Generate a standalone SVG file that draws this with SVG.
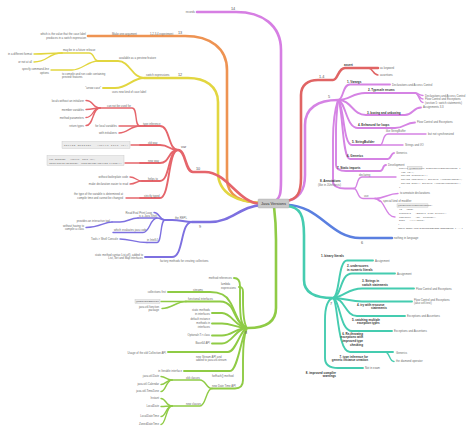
<svg xmlns="http://www.w3.org/2000/svg" width="474" height="434" viewBox="0 0 474 434">
<style>
text{font-family:"Liberation Sans",Arial,sans-serif;font-size:2.8px;fill:#6a6a6a}
.b{font-weight:bold;fill:#333;font-size:3px}
.n{font-size:3.8px;fill:#555}
.e{text-anchor:end}
.m{font-family:"Liberation Mono",monospace;font-size:2.5px;fill:#555}
path{fill:none;stroke-linecap:round;stroke-linejoin:round}
.tk{stroke-width:2.6}
.md{stroke-width:1.9}
.lf{stroke-width:1.4}
.k14{stroke:#d67ee3}.k13{stroke:#ee9352}.k12{stroke:#e2d640}.k10{stroke:#e5656b}.k9{stroke:#7d70e0}.k8{stroke:#8fcb45}.k7{stroke:#45ccb0}.k6{stroke:#5a7fe0}.k5{stroke:#d583e4}.k4{stroke:#e06464}
.box{fill:#ececec;stroke:#c4c4c4;stroke-width:0.4}
</style>
<rect width="474" height="434" fill="#ffffff"/>
<g id="connectors">
<path class="tk k14" d="M272,202 C281,200 281,192 281,180 L281,50 C281,25 262,12 236,12 L197,12"/>
<path class="tk k13" d="M266,203 C240,203 227,196 227,178 L227,70 C227,48 210,36 185,36 L88,36"/>
<path class="tk k12" d="M264,203 C238,203 218,194 218,172 L218,102 C218,86 205,78 188,78 L144,78"/>
<path class="md k12" d="M144,78 C132,78 130,61 118,61 L98,61"/>
<path class="lf k12" d="M98,61 C93,61 95,53 89,53 L62,53"/>
<path class="lf k12" d="M62,53 C48,53 48,54 34,54"/>
<path class="lf k12" d="M62,53 C48,53 48,62 34,62"/>
<path class="lf k12" d="M98,61 C88,61 82,70 72,70 L51,70"/>
<path class="md k12" d="M144,78 C132,78 128,88 115,88 L103,88"/>
<path class="tk k10" d="M262,204 C238,204 228,172 205,172 L193,172 C185,172 186,150 178,150"/>
<path class="md k10" d="M178,150 C168,150 170,126 160,126 L140,126"/>
<path class="md k10" d="M178,150 C168,150 170,145 160,145 L140,145"/>
<path class="md k10" d="M178,150 C168,150 170,163 160,163 L140,163"/>
<path class="md k10" d="M178,150 C168,150 170,181 160,181 L142,181"/>
<path class="md k10" d="M178,150 C168,150 170,198 160,198 L140,198"/>
<path class="lf k10" d="M140,126 C134,126 138,108 132,108 L100,108"/>
<path class="lf k10" d="M100,108 C92,108 94,100.5 86,100.5"/>
<path class="lf k10" d="M100,108 C92,108 94,109.5 86,109.5"/>
<path class="lf k10" d="M100,108 C92,108 94,117.5 86,117.5"/>
<path class="lf k10" d="M100,108 C92,108 94,125.5 86,125.5"/>
<path class="lf k10" d="M140,126 L119,126"/>
<path class="lf k10" d="M140,126 C130,126 128,133 119,133"/>
<path class="lf k10" d="M140,145 L131,145"/>
<path class="lf k10" d="M140,163 L125,163"/>
<path class="lf k10" d="M142,181 C136,181 136,177 130,177"/>
<path class="lf k10" d="M142,181 C136,181 136,184 130,184"/>
<path class="lf k10" d="M140,198 L126,198"/>
<path class="tk k9" d="M262,205 C240,206 232,222 210,222 L192,222"/>
<path class="md k9" d="M192,222 C185,222 180,220 172,220 L165,220"/>
<path class="lf k9" d="M165,220 C159,220 160,212.5 154,212.5"/>
<path class="lf k9" d="M165,220 C161,220 161,218 157,218 L138,218"/>
<path class="lf k9" d="M138,218 C130,218 128,222 120,222 L112,222"/>
<path class="lf k9" d="M112,222 C104,222 100,227.5 86,227.5"/>
<path class="lf k9" d="M157,218 C150,218 150,232.5 143,232.5 L113,232.5"/>
<path class="lf k9" d="M165,220 C160,220 162,242.5 157,242.5 L147,242.5"/>
<path class="lf k9" d="M147,242.5 C135,242.5 130,239 120,239"/>
<path class="md k9" d="M192,222 C180,222 184,257 172,257 L145,257"/>
<path class="tk k6" d="M286,205 C320,205 330,238 360,238 L392,238"/>
<path class="tk k7" d="M287,206 C300,207 304,215 304,235 L304,280 C304,293 316,298 333,298"/>
<path class="md k7" d="M333,298 C340,296 338,260.5 347,260.5 L373,260.5"/>
<path class="md k7" d="M333,298 C342,296 340,273.5 352,273.5 L395,273.5"/>
<path class="md k7" d="M333,298 C345,296 348,288.5 362,288.5 L414,288.5"/>
<path class="md k7" d="M333,298 C345,298 350,301.5 362,301.5 L412,301.5"/>
<path class="md k7" d="M333,298 C345,298 345,316 357,316 L405,316"/>
<path class="md k7" d="M333,298 C340,300 340,331 352,331 L392,331"/>
<path class="md k7" d="M333,298 C338,300 337,352 350,352 L393,352"/>
<path class="lf k7" d="M385,352 C390,352 389,361.5 394,361.5"/>
<path class="md k7" d="M333,298 C326,300 325,310 325,320 L325,358 C325,365 330,368 338,368 L363,368"/>
<path class="tk k5" d="M286,201 C300,199 305,190 305,175 L305,125 C305,108 318,100 338,100"/>
<path class="md k5" d="M338,100 C344,100 342,84.5 350,84.5 L390,84.5"/>
<path class="md k5" d="M338,100 C350,100 352,93 365,93 L415,93"/>
<path class="lf k5" d="M415,93 C419,93 419,95.5 423,95.5"/>
<path class="lf k5" d="M415,93 C419,93 419,99 423,99"/>
<path class="lf k5" d="M415,93 C419,93 419,102.5 423,102.5"/>
<path class="md k5" d="M338,100 C352,100 352,115 366,115 L405,115 C413,115 413,107.5 421,107.5"/>
<path class="md k5" d="M338,100 C346,102 346,128 358,128 L395,128 C405,128 405,122.5 415,122.5"/>
<path class="md k5" d="M338,100 C344,104 343,145 352,145 L380,145"/>
<path class="lf k5" d="M380,145 C384,145 382,134 388,134 L426,134"/>
<path class="lf k5" d="M380,145 L403,145"/>
<path class="md k5" d="M338,100 C343,106 342,159 350,159 L388,159 C391,159 391,153 394,153"/>
<path class="md k5" d="M338,100 C337,110 336,120 336,130 L336,165 C336,169 340,171 346,171 L380,171 C384,171 382,165 386,165"/>
<path class="md k5" d="M338,100 C334,112 333,125 333,140 L333,182 C333,186 338,188.5 345,188.5 L354,188.5"/>
<path class="lf k5" d="M354,188.5 C358,188.5 356,177 362,177 L396,177"/>
<path class="lf k5" d="M354,188.5 C358,188.5 357,198.5 363,198.5 L375,198.5"/>
<path class="lf k5" d="M375,198.5 C385,198.5 388,193.5 398,193.5"/>
<path class="lf k5" d="M375,198.5 C378,198.5 378,201.5 381,201.5"/>
<path class="lf k5" d="M375,198.5 C385,198.5 385,217 395,217"/>
<path class="tk k4" d="M285,201 C298,200 301,192 301,178 L301,95 C301,85 308,80 318,80 L333,80 C338,80 338,68 345,68 L378,68"/>
<path class="lf k4" d="M368,68 C373,68 373,75 378,75"/>
<path class="tk k8" d="M274,207 C275,215 276,222 276,240 L276,308 C276,322 265,328 248,328"/>
<path class="md k8" d="M247,328 C241,326 240,318 240,300 L240,286 C240,281 238,278 234,278"/>
<path class="md k8" d="M247,328 C244,324 243,316 243,300 L243,292 C243,288 242,287 239,287"/>
<path class="md k8" d="M247,328 C238,325 236,312 230,302 C226,294 218,292 210,292 L168,292"/>
<path class="md k8" d="M247,328 C238,325 235,313 231,307 C228,303 225,301.5 220,301.5 L186,301.5"/>
<path class="lf k8" d="M186,301.5 L161,301.5"/>
<path class="lf k8" d="M186,301.5 C176,301.5 172,308.5 162,308.5"/>
<path class="md k8" d="M247,328 C235,327 232,313 222,313 L212,313"/>
<path class="md k8" d="M247,328 C236,328 232,323.5 222,323.5 L212,323.5"/>
<path class="md k8" d="M247,328 C236,328 232,335.5 222,335.5 L212,335.5"/>
<path class="md k8" d="M247,328 C236,328 232,343.5 222,343.5 L212,343.5"/>
<path class="md k8" d="M247,328 C240,330 236,352 228,352 L168,352"/>
<path class="md k8" d="M247,328 C242,332 238,371 230,371 L184,371"/>
<path class="md k8" d="M247,328 C244,335 243,345 243,360 L243,380 C243,386 240,388.5 235,388.5 L212,388.5"/>
<path class="lf k8" d="M212,388.5 C206,388.5 206,380 200,380 L172,380"/>
<path class="lf k8" d="M172,380 C166,380 166,376.5 161,376.5"/>
<path class="lf k8" d="M172,380 C166,380 166,384.5 161,384.5"/>
<path class="lf k8" d="M172,380 C166,380 166,391.5 161,391.5"/>
<path class="lf k8" d="M212,388.5 C206,388.5 206,406 200,406 L172,406"/>
<path class="lf k8" d="M172,406 C166,406 166,398.5 161,398.5"/>
<path class="lf k8" d="M172,406 C166,406 166,406.5 161,406.5"/>
<path class="lf k8" d="M172,406 C166,406 166,416.5 161,416.5"/>
<path class="lf k8" d="M172,406 C166,406 166,424.5 161,424.5"/>
</g>
<g id="root"><rect x="258" y="199" width="31" height="9" rx="1" fill="#c8c8c8" stroke="#aaaaaa" stroke-width="0.4"/><text x="273.5" y="204.9" text-anchor="middle" style="font-size:4px;fill:#333">Java Versions</text></g>
<g id="v14"><text class="n" x="231" y="9.5">14</text></g>
<g id="records"><text class="e" x="195" y="13">records</text></g>
<g id="v13"><text class="n" x="178" y="33.5">13</text></g>
<g id="experiment"><text x="150" y="34.5">1,2,3,4 experiment</text></g>
<g id="argument"><text x="112" y="34.5">Make one argument</text></g>
<g id="yield-desc"><text class="e" x="86" y="34.5">which is the value that the case label</text><text class="e" x="86" y="39">produces in a switch expression</text></g>
<g id="v12"><text class="n" x="178" y="75.5">12</text></g>
<g id="switch"><text x="146" y="76">switch expressions</text></g>
<g id="preview"><text x="119" y="58.5">available as a preview feature</text></g>
<g id="future"><text x="63" y="51">may be in a future release</text></g>
<g id="format"><text class="e" x="32" y="55">in a different format</text></g>
<g id="notatall"><text class="e" x="32" y="63">or not at all</text></g>
<g id="cmdline"><text class="e" x="49" y="69.5">specify command-line</text><text class="e" x="49" y="73.5">options</text></g>
<g id="compile"><text x="62" y="74.5">to compile and run code containing</text><text x="62" y="78">preview features</text></g>
<g id="arrow"><text class="e" x="101" y="89">"arrow case"</text></g>
<g id="caselabel"><text x="112" y="93">uses new kind of case label</text></g>
<g id="v10"><text class="n" x="196" y="169.5">10</text></g>
<g id="var"><text class="n" x="181" y="147.5">var</text></g>
<g id="typeinf"><text x="143" y="124.5">type inference</text></g>
<g id="oldway"><text x="148" y="143.5">old way</text></g>
<g id="newway"><text x="148" y="161.5">new way</text></g>
<g id="helps"><text x="148" y="179.5">helps to</text></g>
<g id="strict"><text x="144" y="196.5">strictly typed</text></g>
<g id="cannot"><text x="107" y="106.5">can not be used for</text></g>
<g id="locals"><text class="e" x="84" y="101.5">locals without an initializer</text></g>
<g id="members"><text class="e" x="84" y="110.5">member variables</text></g>
<g id="params"><text class="e" x="84" y="118.5">method parameters</text></g>
<g id="returns"><text class="e" x="84" y="126.5">return types</text></g>
<g id="forlocal"><text class="e" x="117" y="127">for local variables</text></g>
<g id="withinit"><text class="e" x="117" y="134">with initializers</text></g>
<g id="code-old"><rect class="box" x="62" y="141.5" width="68" height="7"/><text class="m" x="64" y="146.2" textLength="64">String message = "Hello Java 10";</text></g>
<g id="code-new"><rect class="box" x="47" y="155.5" width="77" height="10"/><text class="m" x="49" y="159.7">var message = "Hello, Java 10";</text><text class="m" x="49" y="163.5" textLength="73">assertThat(message, instanceOf(String.class));</text></g>
<g id="boiler"><text class="e" x="128" y="178">without boilerplate code</text></g>
<g id="easier"><text class="e" x="128" y="185">make declaration easier to read</text></g>
<g id="typedesc"><text class="e" x="123" y="194.5">the type of the variable is determined at</text><text class="e" x="123" y="198.5">compile time and cannot be changed</text></g>
<g id="v9"><text class="n" x="199" y="227.5">9</text></g>
<g id="repl"><text x="175" y="218.5">the REPL</text></g>
<g id="repl-full"><text class="e" x="152" y="213.5">Read Eval Print Loop</text></g>
<g id="shell"><text x="139" y="216.8">is a Java Shell</text></g>
<g id="tool"><text class="e" x="110" y="221.8">provides an interactive tool</text></g>
<g id="nocompile"><text class="e" x="84" y="226.5">without having to</text><text class="e" x="84" y="230">compile a class</text></g>
<g id="evaluates"><text x="114" y="231.3">which evaluates java code</text></g>
<g id="intellij"><text x="147" y="241.2">in IntelliJ</text></g>
<g id="console"><text class="e" x="118" y="240">Tools &gt; Shell Console</text></g>
<g id="factory"><text x="160" y="261.5">factory methods for creating collections</text></g>
<g id="listof"><text class="e" x="143" y="255.5">static method syntax List.of(), added to</text><text class="e" x="143" y="259.3">List, Set and Map interfaces</text></g>
<g id="v6"><text class="n" x="361" y="243.5">6</text></g>
<g id="nothing"><text x="394" y="239">nothing in language</text></g>
<g id="v7"><text class="n" x="330" y="304.5">7</text></g>
<g id="j7-1"><text class="b" x="321" y="257">1. binary literals</text></g>
<g id="j7-1l"><text x="375" y="261.5">Assignment</text></g>
<g id="j7-2"><text class="b" x="347" y="267">2. underscores</text><text class="b" x="347" y="270.8">in numeric literals</text></g>
<g id="j7-2l"><text x="397" y="275">Assignment</text></g>
<g id="j7-3"><text class="b" x="362" y="282">3. Strings in</text><text class="b" x="362" y="285.8">switch statements</text></g>
<g id="j7-3l"><text x="416" y="290">Flow Control and Exceptions</text></g>
<g id="j7-4"><text class="b" x="357" y="305.5">4. try with resource</text><text class="b" x="371" y="309.3">statements</text></g>
<g id="j7-4l"><text x="414" y="300.5">Flow Control and Exceptions</text><text x="414" y="304.3">(also self-test)</text></g>
<g id="j7-5"><text class="b" x="352" y="320.5">5. catching multiple</text><text class="b" x="357" y="324.3">exception types</text></g>
<g id="j7-5l"><text x="407" y="317">Exceptions and Assertions</text></g>
<g id="j7-6"><text class="b e" x="363" y="334.5">6. Re-throwing</text><text class="b e" x="363" y="338.3">exceptions with</text><text class="b e" x="363" y="342.1">improved type</text><text class="b e" x="363" y="345.9">checking</text></g>
<g id="j7-6l"><text x="394" y="332">Exceptions and Assertions</text></g>
<g id="j7-7"><text class="b e" x="368" y="357.5">7. type inference for</text><text class="b e" x="368" y="361.3">generic instance creation</text></g>
<g id="j7-7a"><text x="396" y="353.5">Generics</text></g>
<g id="j7-7b"><text x="396" y="362">the diamond operator</text></g>
<g id="j7-8"><text class="b e" x="336" y="373.5">8. improved compiler</text><text class="b e" x="336" y="377.3">warnings</text></g>
<g id="j7-8l"><text x="365" y="369">Not in exam</text></g>
<g id="v5"><text class="n" x="328" y="97.5">5</text></g>
<g id="j5-1"><text class="b" x="347" y="82.5">1. Varargs</text></g>
<g id="j5-1l"><text x="392" y="85.5">Declarations and Access Control</text></g>
<g id="j5-2"><text class="b" x="368" y="91.3">2. Typesafe enums</text></g>
<g id="j5-2a"><text x="425" y="96.5">Declarations and Access Control</text></g>
<g id="j5-2b"><text x="425" y="100">Flow Control and Exceptions</text></g>
<g id="j5-2c"><text x="425" y="103.5">(section 5: switch statements)</text></g>
<g id="j5-3"><text class="b" x="367" y="113.5">3. boxing and unboxing</text></g>
<g id="j5-3l"><text x="423" y="108.3">Assignments 3.3</text></g>
<g id="j5-4"><text class="b" x="358" y="126.3">4. Enhanced for loops</text></g>
<g id="j5-4l"><text x="417" y="123.3">Flow Control and Exceptions</text></g>
<g id="j5-5"><text class="b" x="352" y="143.3">5. StringBuilder</text></g>
<g id="j5-5a"><text x="386" y="132.3">like StringBuffer</text></g>
<g id="j5-5b"><text x="428" y="135">but not synchronized</text></g>
<g id="j5-5c"><text x="405" y="146">Strings and I/O</text></g>
<g id="j5-6"><text class="b" x="347" y="157.3">6. Generics</text></g>
<g id="j5-6l"><text x="396" y="153.5">Generics</text></g>
<g id="j5-7"><text class="b" x="337" y="169.3">7. Static imports</text></g>
<g id="j5-7l"><text x="388" y="165.5">Development</text></g>
<g id="j5-8"><text class="b" x="320" y="182.3">8. Annotations</text><text x="318" y="186.3">(like in JUnit tests)</text></g>
<g id="declaring"><text x="359" y="175.5">declaring</text></g>
<g id="code-decl"><rect class="box" x="407.5" y="166.2" width="14.5" height="3.2"/><text class="m" x="399" y="168.7">public @interface RequestForEnhancement {</text><text class="m" x="401" y="172.5">int id();</text><text class="m" x="401" y="176.3">String synopsis();</text><text class="m" x="401" y="180.1">String engineer() default "[unassigned]";</text><text class="m" x="401" y="183.9">String date() default "[unimplemented]";</text><text class="m" x="399" y="187.7">}</text></g>
<g id="use"><text x="364" y="197">use</text></g>
<g id="annotate"><text x="400" y="194.3">to annotate declarations</text></g>
<g id="modifier"><text x="383" y="201.8">special kind of modifier</text></g>
<g id="code-use"><rect class="box" x="397" y="203.8" width="31" height="3.4"/><text class="m" x="398" y="206.4">@RequestForEnhancement(</text><text class="m" x="399" y="210">id = 2868,</text><text class="m" x="399" y="213.8">synopsis = "Enable time-travel",</text><text class="m" x="399" y="217.6">engineer = "Mr. Peabody",</text><text class="m" x="399" y="221.4">date = "4/1/3007"</text><text class="m" x="398" y="225.2">)</text><text class="m" x="398" y="229" textLength="65">public static void travelThrough(Date destination) { ... }</text></g>
<g id="v14x"><text class="n" x="319" y="78">1.4</text></g>
<g id="assert"><text class="b" x="344" y="66.3">assert</text></g>
<g id="keyword"><text x="380" y="69">as keyword</text></g>
<g id="assertions"><text x="380" y="76">assertions</text></g>
<g id="v8"><text class="n" x="245" y="333.5">8</text></g>
<g id="methodref"><text class="e" x="232" y="278.8">method references</text></g>
<g id="lambda"><text x="221" y="285.3">lambda</text><text x="221" y="289">expressions</text></g>
<g id="streams"><text x="193" y="290.5">streams</text></g>
<g id="collfirst"><text class="e" x="166" y="293">collections first</text></g>
<g id="funcif"><text x="188" y="299.8">functional interfaces</text></g>
<g id="funcbox"><rect class="box" x="135" y="299.6" width="25" height="3.8"/><text class="m" x="136" y="302.4" textLength="23">@FunctionalInterface</text></g>
<g id="funcpkg"><text class="e" x="159" y="307.8">java.util.function</text><text class="e" x="159" y="311.4">package</text></g>
<g id="staticm"><text class="e" x="210" y="311">static methods</text><text class="e" x="210" y="314.6">in interfaces</text></g>
<g id="defaultm"><text class="e" x="210" y="320.3">default instance</text><text class="e" x="210" y="323.9">methods in</text><text class="e" x="210" y="327.5">interfaces</text></g>
<g id="optional"><text class="e" x="210" y="336">Optional&lt;T&gt; class</text></g>
<g id="base64"><text class="e" x="210" y="344">Base64 API</text></g>
<g id="streamapi"><text x="196" y="357.5">new Stream API and</text><text x="196" y="361.2">added to java.util.stream</text></g>
<g id="oldcoll"><text class="e" x="166" y="353.5">Usage of the old Collection API</text></g>
<g id="foreach"><text x="212" y="376.5">forEach() method</text></g>
<g id="iterable"><text class="e" x="182" y="372">in Iterable interface</text></g>
<g id="datetime"><text x="212" y="386.8">new Date Time API</text></g>
<g id="oldcls"><text x="186" y="378.5">old classes</text></g>
<g id="d1"><text class="e" x="159" y="377.3">java.util.Date</text></g>
<g id="d2"><text class="e" x="159" y="385.3">java.util.Calendar</text></g>
<g id="d3"><text class="e" x="159" y="392.3">java.util.TimeZone</text></g>
<g id="newcls"><text x="186" y="404.5">new classes</text></g>
<g id="d4"><text class="e" x="159" y="399.3">Instant</text></g>
<g id="d5"><text class="e" x="159" y="407.3">LocalDate</text></g>
<g id="d6"><text class="e" x="159" y="417.3">LocalDateTime</text></g>
<g id="d7"><text class="e" x="159" y="425.3">ZonedDateTime</text></g>
</svg>
